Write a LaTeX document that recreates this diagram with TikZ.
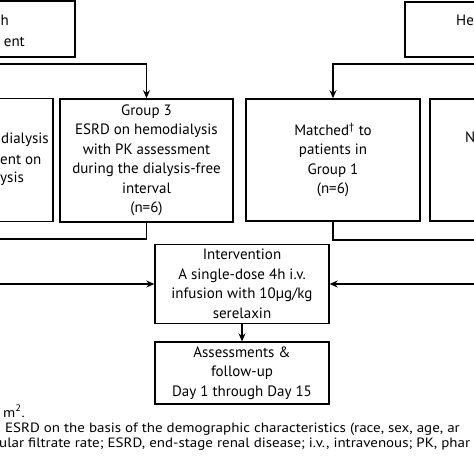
\documentclass[tikz,border=0pt]{standalone}
\usepackage{fontspec}
\setmainfont{PT Sans}
\newfontfamily\notefont{PT Sans}[FakeStretch=1.11]
\usetikzlibrary{arrows.meta}

\tikzset{
  box/.style={draw, line width=1.6pt, align=center, inner sep=0pt,
    font=\fontsize{15}{19.5}\selectfont},
  frag/.style={inner sep=0pt, font=\fontsize{15}{19.5}\selectfont},
  flow/.style={line width=1.2pt},
  flowarrow/.style={flow, -{Stealth[length=8pt,width=7pt]}},
  note/.style={inner sep=0pt, anchor=base west, font=\notefont\fontsize{13.5}{15}\selectfont}
}

\begin{document}
\begin{tikzpicture}[x=1pt,y=-1pt]
    \useasboundingbox (0,0) rectangle (474,474);
    \clip (0,0) rectangle (474,474);
    % top boxes, cut off at the sides
    \node[box, minimum width=230pt, minimum height=56pt] (topleft) at (-40,29) {};
    \node[frag, anchor=east] (tlone) at (9,20) {h};
    \node[frag, anchor=east] (tltwo) at (25,42) {ent};
    \node[box, minimum width=230pt, minimum height=55pt] (topright) at (520,29.5) {};
    \node[frag, anchor=west] (trone) at (456,20) {He};
    % group boxes
    \node[box, minimum width=173pt, minimum height=123pt] (grpleft) at (-33.5,160) {};
    \node[frag, anchor=west] (glone) at (1,140) {dialysis};
    \node[frag, anchor=west] (gltwo) at (0,160) {ent on};
    \node[frag, anchor=west] (glthree) at (0,179) {ysis};
    \node[box, minimum width=173pt, minimum height=123pt] (grpthree) at (146.5,160.5)
        {Group 3\\ESRD on hemodialysis\\with PK assessment\\during the dialysis-free\\interval\\(n=6)};
    \node[box, minimum width=174pt, minimum height=122pt] (matched) at (333,160)
        {Matched\textsuperscript{\textdagger} to\\patients in\\Group 1\\(n=6)};
    \node[box, minimum width=174pt, minimum height=122pt] (grpright) at (517,160) {};
    \node[frag, anchor=west] (grone) at (465,137) {N};
    % intervention and follow-up
    \node[box, line width=1.3pt, minimum width=174pt, minimum height=79pt] (interv) at (242,284)
        {Intervention\\A single-dose 4h i.v.\\infusion with 10µg/kg\\serelaxin};
    \node[box, line width=1.3pt, minimum width=174pt, minimum height=62pt] (assess) at (242,373)
        {Assessments \&\\follow-up\\Day 1 through Day 15};
    % connectors
    \coordinate (inleft) at (-10,64);
    \coordinate (inright) at (484,64);
    \coordinate (outleft) at (-10,239);
    \coordinate (outright) at (484,240);
    \coordinate (armleft) at (-10,284);
    \coordinate (armright) at (484,284);
    \draw[flowarrow] (inleft) -| (grpthree.north);
    \draw[flowarrow] (inright) -| (matched.north);
    \draw[flow] (grpthree.south) |- (outleft);
    \draw[flow] (matched.south) |- (outright);
    \draw[flowarrow] (armleft) -- (interv.west);
    \draw[flowarrow] (armright) -- (interv.east);
    \draw[flowarrow] (interv.south) -- (assess.north);
    % footnotes
    \node[note] (fnone) at (3,417) {m\textsuperscript{2}.};
    \node[note] (fntwo) at (5,432.5) {ESRD on the basis of the demographic characteristics (race, sex, age, ar};
    \node[note] (fnthree) at (-1,447) {ular filtrate rate; ESRD, end-stage renal disease; i.v., intravenous; PK, phar};
\end{tikzpicture}
\end{document}
